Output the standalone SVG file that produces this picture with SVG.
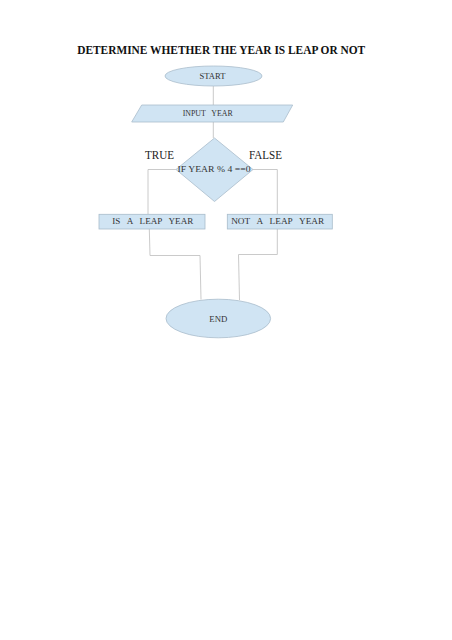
<svg xmlns="http://www.w3.org/2000/svg" width="452" height="640" viewBox="0 0 452 640">
<style>
text{font-family:"Liberation Serif","Times New Roman",serif;fill:#333;white-space:pre}
.node{fill:#d0e4f3;stroke:#a9bccb;stroke-width:0.8}
.lbl{font-size:8.6px;text-anchor:middle}
.conn{fill:none;stroke:#c4c4c4;stroke-width:0.9}
.title{font-size:12px;font-weight:bold;fill:#111}
.branch{font-size:11.5px;fill:#222;text-anchor:middle}
</style>
<rect width="452" height="640" fill="#fff"/>
<text class="title" x="221.2" y="54" text-anchor="middle" textLength="288" lengthAdjust="spacingAndGlyphs">DETERMINE WHETHER THE YEAR IS LEAP OR NOT</text>
<g id="connectors">
<path class="conn" d="M213.3 86 V105"/>
<path class="conn" d="M213.3 122 V138"/>
<path class="conn" d="M176 169.5 H148 V214.3"/>
<path class="conn" d="M253 169.5 H277.3 V214.3"/>
<path class="conn" d="M149.3 229 L150 255.5 H200 L201 299.5"/>
<path class="conn" d="M277.3 229 V254.5 H238.5 L239.5 300"/>
</g>
<g id="start">
<ellipse class="node" cx="213.5" cy="76" rx="48.5" ry="10"/>
<text class="lbl" x="212.5" y="78.5" textLength="26" lengthAdjust="spacingAndGlyphs">START</text>
</g>
<g id="input">
<polygon class="node" points="141.7,105 292.7,105 283.3,122 131.7,122"/>
<text class="lbl" x="207.7" y="116" textLength="50" lengthAdjust="spacingAndGlyphs">INPUT   YEAR</text>
</g>
<g id="decision">
<polygon class="node" points="214.5,138 253,169.5 214.5,201.5 176,169.5"/>
<text class="lbl" x="214" y="172.2" textLength="73" lengthAdjust="spacingAndGlyphs">IF YEAR % 4 ==0</text>
</g>
<text class="branch" x="159.5" y="159.3" textLength="29" lengthAdjust="spacingAndGlyphs">TRUE</text>
<text class="branch" x="265.5" y="159.3" textLength="33" lengthAdjust="spacingAndGlyphs">FALSE</text>
<g id="leap">
<rect class="node" x="99" y="214.3" width="106" height="14.7"/>
<text class="lbl" x="152.8" y="223.5" textLength="81" lengthAdjust="spacingAndGlyphs">IS   A   LEAP   YEAR</text>
</g>
<g id="notleap">
<rect class="node" x="227.3" y="214.3" width="105" height="14.7"/>
<text class="lbl" x="277.7" y="223.5" textLength="93" lengthAdjust="spacingAndGlyphs">NOT   A   LEAP   YEAR</text>
</g>
<g id="end">
<ellipse class="node" cx="218.3" cy="318.5" rx="52.3" ry="19.3"/>
<text class="lbl" x="218.3" y="322" textLength="18" lengthAdjust="spacingAndGlyphs">END</text>
</g>
</svg>
